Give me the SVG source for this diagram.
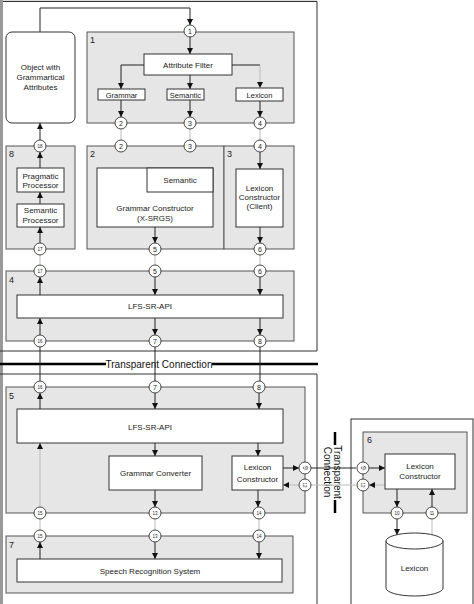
<svg xmlns="http://www.w3.org/2000/svg" width="474" height="604" viewBox="0 0 474 604">
<defs>
<style>
.frame{fill:none;stroke:#333;stroke-width:1}
.grp{fill:#e6e6e6;stroke:#555;stroke-width:1}
.box{fill:#fff;stroke:#333;stroke-width:1}
.c{fill:#fff;stroke:#333;stroke-width:0.9}
.t{font-family:"Liberation Sans",Arial,sans-serif;font-size:8px;fill:#222;text-anchor:middle}
.ts{font-family:"Liberation Sans",Arial,sans-serif;font-size:7.5px;fill:#222;text-anchor:middle}
.n{font-family:"Liberation Sans",Arial,sans-serif;font-size:7px;fill:#222;text-anchor:middle}
.s{font-family:"Liberation Sans",Arial,sans-serif;font-size:4.5px;fill:#222;text-anchor:middle}
.lbl{font-family:"Liberation Sans",Arial,sans-serif;font-size:9px;fill:#222}
.ln{stroke:#222;stroke-width:1;fill:none}
.lt{stroke:#bbb;stroke-width:1;fill:none}
.tc{font-family:"Liberation Sans",Arial,sans-serif;font-size:10px;fill:#111;text-anchor:middle}
</style>
<marker id="a" markerUnits="userSpaceOnUse" markerWidth="6" markerHeight="6" refX="6" refY="3" orient="auto">
<path d="M0,0 L6,3 L0,6 z" fill="#111"/>
</marker>
</defs>
<rect width="474" height="604" fill="#fff"/>
<!-- outer frames -->
<g id="frames">
<rect x="0" y="0" width="317" height="2" fill="#ddd"/>
<rect x="0" y="0" width="3" height="604" fill="#999"/>
<path class="frame" d="M3,1.5 H317 V351 H0"/>
<path class="frame" d="M0,374 H317 V604"/>
<rect class="frame" x="351" y="419" width="122" height="190"/>
<line x1="0" y1="364" x2="318" y2="364" stroke="#000" stroke-width="2.5"/>
<rect x="106" y="357" width="106" height="13" fill="#fff"/>
<text class="tc" x="159" y="367.5">Transparent Connection</text>
<line x1="335" y1="432" x2="335" y2="445" stroke="#000" stroke-width="2.5"/>
<line x1="335" y1="500" x2="335" y2="513" stroke="#000" stroke-width="2.5"/>
<g transform="translate(332,472) rotate(90)">
<text class="tc" x="0" y="-2">Transparent</text>
<text class="tc" x="0" y="8">Connection</text>
</g>
</g>
<!-- group boxes -->
<g id="g1"><rect class="grp" x="87" y="32" width="207" height="91"/><text class="lbl" x="90" y="43">1</text></g>
<g id="g8"><rect class="grp" x="6" y="146" width="69" height="103"/><text class="lbl" x="9" y="157">8</text></g>
<g id="g2"><rect class="grp" x="87" y="146" width="137" height="103"/><text class="lbl" x="90" y="157">2</text></g>
<g id="g3"><rect class="grp" x="224" y="146" width="70" height="103"/><text class="lbl" x="227" y="157">3</text></g>
<g id="g4"><rect class="grp" x="6" y="271" width="288" height="70"/><text class="lbl" x="9" y="283">4</text></g>
<g id="g5"><rect class="grp" x="6" y="387" width="299" height="126"/><text class="lbl" x="9" y="399">5</text></g>
<g id="g7"><rect class="grp" x="6" y="536" width="287" height="57"/><text class="lbl" x="9" y="548">7</text></g>
<g id="g6"><rect class="grp" x="363" y="432" width="104" height="81"/><text class="lbl" x="367" y="443">6</text></g>
<!-- connectors -->
<g id="connectors">
<path class="ln" d="M40,32 V8 H190 V25" marker-end="url(#a)"/>
<path class="ln" d="M190,37 V54" marker-end="url(#a)"/>
<path class="ln" d="M144,65 H121 V89" marker-end="url(#a)"/>
<path class="ln" d="M190,75 V89" marker-end="url(#a)"/>
<path class="ln" d="M232,65 H260"/>
<path class="lt" d="M260,65 V88" marker-end="url(#a)"/>
<path class="ln" d="M121,100 V117" marker-end="url(#a)"/>
<path class="ln" d="M190,100 V117" marker-end="url(#a)"/>
<path class="ln" d="M260,101 V117" marker-end="url(#a)"/>
<path class="lt" d="M121,129 V140 M190,129 V140 M260,129 V140"/>
<path class="ln" d="M260,152 V169" marker-end="url(#a)"/>
<path class="ln" d="M260,227 V243" marker-end="url(#a)"/>
<path class="ln" d="M155,227 V243" marker-end="url(#a)"/>
<path class="lt" d="M40,255 V265 M155,255 V265 M260,255 V265"/>
<path class="ln" d="M40,243 V227" marker-end="url(#a)"/>
<path class="ln" d="M40,204 V192" marker-end="url(#a)"/>
<path class="ln" d="M40,168 V152" marker-end="url(#a)"/>
<path class="ln" d="M40,140 V123" marker-end="url(#a)"/>
<path class="ln" d="M40,295 V277" marker-end="url(#a)"/>
<path class="ln" d="M155,277 V295" marker-end="url(#a)"/>
<path class="ln" d="M260,277 V295" marker-end="url(#a)"/>
<path class="ln" d="M40,335 V318" marker-end="url(#a)"/>
<path class="ln" d="M155,318 V335" marker-end="url(#a)"/>
<path class="ln" d="M260,318 V335" marker-end="url(#a)"/>
<path class="ln" d="M40,347 V381 M155,347 V381 M260,347 V381"/>
<path class="ln" d="M40,409 V393" marker-end="url(#a)"/>
<path class="ln" d="M155,393 V409" marker-end="url(#a)"/>
<path class="ln" d="M259,393 V409" marker-end="url(#a)"/>
<path class="ln" d="M155,443 V456" marker-end="url(#a)"/>
<path class="ln" d="M258,443 V456" marker-end="url(#a)"/>
<path class="ln" d="M155,490 V507" marker-end="url(#a)"/>
<path class="ln" d="M258,490 V507" marker-end="url(#a)"/>
<path class="lt" d="M40,507 V443" marker-end="url(#a)"/>
<path class="lt" d="M40,519 V530 M155,519 V530 M259,519 V530"/>
<path class="ln" d="M40,559 V542" marker-end="url(#a)"/>
<path class="ln" d="M155,542 V559" marker-end="url(#a)"/>
<path class="ln" d="M259,542 V559" marker-end="url(#a)"/>
<path class="ln" d="M283,468 H299" marker-end="url(#a)"/>
<path class="ln" d="M311,468 H356"/>
<path class="ln" d="M369,468 H385" marker-end="url(#a)"/>
<path class="lt" d="M385,485 H369" marker-end="url(#a)"/>
<path class="lt" d="M356,485 H311"/>
<path class="lt" d="M299,485 H283" marker-end="url(#a)"/>
<path class="ln" d="M397,489 V507" marker-end="url(#a)"/>
<path class="ln" d="M397,519 V535" marker-end="url(#a)"/>
<path class="ln" d="M432,507 V489" marker-end="url(#a)"/>
<path class="lt" d="M432,535 V519"/>
</g>
<!-- nodes -->
<g id="object"><rect class="box" x="6" y="32" width="69" height="91" rx="6"/>
<text class="t" x="40.5" y="70">Object with</text><text class="t" x="40.5" y="80">Grammartical</text><text class="t" x="40.5" y="90">Attributes</text></g>
<g id="attrfilter"><rect class="box" x="144" y="54" width="88" height="21"/><text class="t" x="188" y="67.5">Attribute Filter</text></g>
<g id="grammar"><rect class="box" x="98" y="89" width="47" height="11"/><text class="ts" x="121.5" y="97.5">Grammar</text></g>
<g id="semantic"><rect class="box" x="167" y="89" width="37" height="11"/><text class="ts" x="185.5" y="97.5">Semantic</text></g>
<g id="lexicon1"><rect class="box" x="236" y="88" width="47" height="13"/><text class="ts" x="259.5" y="97.5">Lexicon</text></g>
<g id="pragmatic"><rect class="box" x="17" y="168" width="47" height="24"/><text class="t" x="40.5" y="178.5">Pragmatic</text><text class="t" x="40.5" y="188">Processor</text></g>
<g id="semproc"><rect class="box" x="17" y="204" width="47" height="23"/><text class="t" x="40.5" y="213">Semantic</text><text class="t" x="40.5" y="223">Processor</text></g>
<g id="grammarconstructor"><rect class="box" x="97" y="168" width="116" height="59"/><rect class="box" x="147" y="168" width="66" height="24"/>
<text class="t" x="180" y="183">Semantic</text><text class="t" x="155" y="211">Grammar Constructor</text><text class="t" x="155" y="221">(X-SRGS)</text></g>
<g id="lexclient"><rect class="box" x="236" y="169" width="47" height="58"/><text class="t" x="259.5" y="191">Lexicon</text><text class="t" x="259.5" y="200">Constructor</text><text class="t" x="259.5" y="209">(Client)</text></g>
<g id="lfs1"><rect class="box" x="17" y="295" width="266" height="23"/><text class="t" x="150" y="309">LFS-SR-API</text></g>
<g id="lfs2"><rect class="box" x="17" y="409" width="266" height="34"/><text class="t" x="150" y="430">LFS-SR-API</text></g>
<g id="grammarconverter"><rect class="box" x="109" y="456" width="93" height="34"/><text class="t" x="155.5" y="476">Grammar Converter</text></g>
<g id="lexconstructor"><rect class="box" x="232" y="456" width="51" height="34"/><text class="t" x="257.5" y="470">Lexicon</text><text class="t" x="257.5" y="482">Constructor</text></g>
<g id="srs"><rect class="box" x="17" y="559" width="265" height="23"/><text class="t" x="150" y="573.5">Speech Recognition System</text></g>
<g id="lexremote"><rect class="box" x="385" y="454" width="70" height="35"/><text class="t" x="420" y="469">Lexicon</text><text class="t" x="420" y="479">Constructor</text></g>
<g id="lexicondb"><path class="box" d="M386,541 A28.5,8 0 0 1 443,541 V588 A28.5,8 0 0 1 386,588 Z"/><path class="box" d="M386,541 A28.5,8 0 0 0 443,541"/><text class="t" x="414.5" y="571">Lexicon</text></g>
<!-- circles -->
<g id="c1"><circle class="c" cx="190" cy="31" r="6"/><text class="n" x="190" y="33.5">1</text></g>
<g id="c2a"><circle class="c" cx="121" cy="123" r="6"/><text class="n" x="121" y="125.5">2</text></g>
<g id="c3a"><circle class="c" cx="190" cy="123" r="6"/><text class="n" x="190" y="125.5">3</text></g>
<g id="c4a"><circle class="c" cx="260" cy="123" r="6"/><text class="n" x="260" y="125.5">4</text></g>
<g id="c2b"><circle class="c" cx="121" cy="146" r="6"/><text class="n" x="121" y="148.5">2</text></g>
<g id="c3b"><circle class="c" cx="190" cy="146" r="6"/><text class="n" x="190" y="148.5">3</text></g>
<g id="c4b"><circle class="c" cx="260" cy="146" r="6"/><text class="n" x="260" y="148.5">4</text></g>
<g id="c18"><circle class="c" cx="40" cy="146" r="6"/><text class="s" x="40" y="147.6">18</text></g>
<g id="c17a"><circle class="c" cx="40" cy="249" r="6"/><text class="s" x="40" y="250.6">17</text></g>
<g id="c5a"><circle class="c" cx="155" cy="249" r="6"/><text class="n" x="155" y="251.5">5</text></g>
<g id="c6a"><circle class="c" cx="260" cy="249" r="6"/><text class="n" x="260" y="251.5">6</text></g>
<g id="c17b"><circle class="c" cx="40" cy="271" r="6"/><text class="s" x="40" y="272.6">17</text></g>
<g id="c5b"><circle class="c" cx="155" cy="271" r="6"/><text class="n" x="155" y="273.5">5</text></g>
<g id="c6b"><circle class="c" cx="260" cy="271" r="6"/><text class="n" x="260" y="273.5">6</text></g>
<g id="c16a"><circle class="c" cx="40" cy="341" r="6"/><text class="s" x="40" y="342.6">16</text></g>
<g id="c7a"><circle class="c" cx="155" cy="341" r="6"/><text class="n" x="155" y="343.5">7</text></g>
<g id="c8a"><circle class="c" cx="260" cy="341" r="6"/><text class="n" x="260" y="343.5">8</text></g>
<g id="c16b"><circle class="c" cx="40" cy="387" r="6"/><text class="s" x="40" y="388.6">16</text></g>
<g id="c7b"><circle class="c" cx="155" cy="387" r="6"/><text class="n" x="155" y="389.5">7</text></g>
<g id="c8b"><circle class="c" cx="259" cy="387" r="6"/><text class="n" x="259" y="389.5">8</text></g>
<g id="c15a"><circle class="c" cx="40" cy="513" r="6"/><text class="s" x="40" y="514.6">15</text></g>
<g id="c13a"><circle class="c" cx="155" cy="513" r="6"/><text class="s" x="155" y="514.6">13</text></g>
<g id="c14a"><circle class="c" cx="259" cy="513" r="6"/><text class="s" x="259" y="514.6">14</text></g>
<g id="c15b"><circle class="c" cx="40" cy="536" r="6"/><text class="s" x="40" y="537.6">15</text></g>
<g id="c13b"><circle class="c" cx="155" cy="536" r="6"/><text class="s" x="155" y="537.6">13</text></g>
<g id="c14b"><circle class="c" cx="259" cy="536" r="6"/><text class="s" x="259" y="537.6">14</text></g>
<g id="c9a"><circle class="c" cx="305" cy="468" r="6"/><text class="n" transform="rotate(90 305 468)" x="305" y="470.5">9</text></g>
<g id="c12a"><circle class="c" cx="305" cy="485" r="6"/><text class="s" transform="rotate(90 305 485)" x="305" y="486.6">12</text></g>
<g id="c9b"><circle class="c" cx="363" cy="468" r="6"/><text class="n" transform="rotate(90 363 468)" x="363" y="470.5">9</text></g>
<g id="c12b"><circle class="c" cx="363" cy="485" r="6"/><text class="s" transform="rotate(90 363 485)" x="363" y="486.6">12</text></g>
<g id="c10"><circle class="c" cx="397" cy="513" r="6"/><text class="s" x="397" y="514.6">10</text></g>
<g id="c11"><circle class="c" cx="432" cy="513" r="6"/><text class="s" x="432" y="514.6">11</text></g>
</svg>
